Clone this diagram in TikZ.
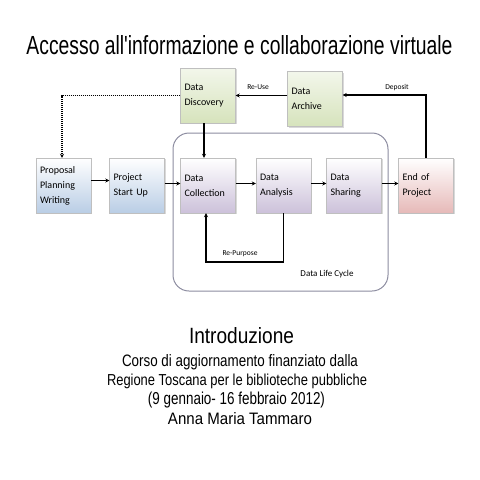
\documentclass[tikz,border=0pt]{standalone}
\usepackage{fontspec}
\newfontfamily\slidefont{Liberation Sans}
\newfontfamily\boxfont{Carlito}
\usetikzlibrary{arrows.meta,shadows}
\newcommand{\fitline}[3]{\resizebox{#1}{#2}{#3}}
\definecolor{greenstage}{RGB}{214,227,188}
\definecolor{bluestage}{RGB}{185,205,229}
\definecolor{purplestage}{RGB}{204,193,218}
\definecolor{redstage}{RGB}{230,185,184}
\definecolor{cycleline}{RGB}{140,140,160}

\begin{document}
\begin{tikzpicture}[x=1pt,y=-1pt,
    stagebox/.style={draw=black!25, minimum width=55pt, minimum height=55pt,
        text width=47pt, inner sep=4pt, align=left,
        font=\boxfont\fontsize{10}{15}\selectfont,
        top color=white, bottom color=#1,
        drop shadow={shadow xshift=1pt,shadow yshift=-1pt,opacity=.3}},
    flow/.style={-{Stealth[length=4pt,width=4pt]}, line width=1.3pt},
    tag/.style={font=\boxfont\fontsize{7.5}{9}\selectfont, anchor=base, inner sep=0pt}]
    \useasboundingbox (0,0) rectangle (480,480);

    % Define the title and the text below
    \node[anchor=base, font=\slidefont] (title) at (239.5,54) {\fitline{426pt}{19pt}{Accesso all'informazione e collaborazione virtuale}};
    \node[anchor=base, font=\slidefont] (intro) at (241.5,343) {\fitline{105pt}{16pt}{Introduzione}};
    \node[anchor=base, font=\slidefont] (course) at (240,366) {\fitline{236pt}{12pt}{Corso di aggiornamento finanziato dalla}};
    \node[anchor=base, font=\slidefont] (region) at (237,385) {\fitline{260pt}{11.5pt}{Regione Toscana per le biblioteche pubbliche}};
    \node[anchor=base, font=\slidefont] (dates) at (236.5,404.5) {\fitline{177pt}{12.5pt}{(9 gennaio- 16 febbraio 2012)}};
    \node[anchor=base, font=\slidefont] (author) at (240,424) {\fitline{144pt}{12pt}{Anna Maria Tammaro}};

    % Define the life cycle frame
    \draw[cycleline, line width=1pt, rounded corners=16pt] (173,133) rectangle (388,291);
    \node[tag, font=\boxfont\fontsize{9}{11}\selectfont] (lifecycle) at (327,276) {Data Life Cycle};

    % Define the stages
    \node[stagebox=greenstage, top color=greenstage!30] (discovery) at (208,95.5) {Data\\Discovery};
    \node[stagebox=greenstage, top color=greenstage!30] (archive) at (315,99) {Data\\Archive};
    \node[stagebox=bluestage] (proposal) at (63.5,185.5) {Proposal\\Planning\\Writing};
    \node[stagebox=bluestage] (startup) at (137,185.5) {Project\\Start Up};
    \node[stagebox=purplestage] (collection) at (208,185.5) {Data\\Collection};
    \node[stagebox=purplestage] (analysis) at (283.5,185.5) {Data\\Analysis};
    \node[stagebox=purplestage] (sharing) at (354,185.5) {Data\\Sharing};
    \node[stagebox=redstage] (endproject) at (426,185.5) {End of\\Project};

    % Draw the connectors
    \draw[flow] ([yshift=5pt]proposal.east) -- ([yshift=5pt]startup.west);
    \draw[flow] ([yshift=2pt]startup.east) -- ([yshift=2pt]collection.west);
    \draw[flow] ([yshift=2pt]collection.east) -- ([yshift=2pt]analysis.west);
    \draw[flow] ([yshift=2pt]analysis.east) -- ([yshift=2pt]sharing.west);
    \draw[flow] ([yshift=2pt]sharing.east) -- ([yshift=2pt]endproject.west);
    \draw[flow] ([xshift=-4pt]discovery.south) -- ([xshift=-4pt]collection.north);
    \draw[flow] (archive.west |- discovery.east) -- (discovery.east);
    \draw[flow] (endproject.north) |- ([yshift=4pt]archive.east);
    \draw[flow, line width=1.2pt, dash pattern=on 1pt off 1pt] (discovery.west) -| ([xshift=-1.5pt]proposal.north);
    \coordinate (repurpose) at (206,262);
    \draw[flow] (analysis.south) |- (repurpose) -- (repurpose |- collection.south);

    % Draw the labels
    \node[tag] (reuse) at (258,89) {Re-Use};
    \node[tag] (deposit) at (397,89) {Deposit};
    \node[tag] (repurposetag) at (240,255) {Re-Purpose};
\end{tikzpicture}
\end{document}
